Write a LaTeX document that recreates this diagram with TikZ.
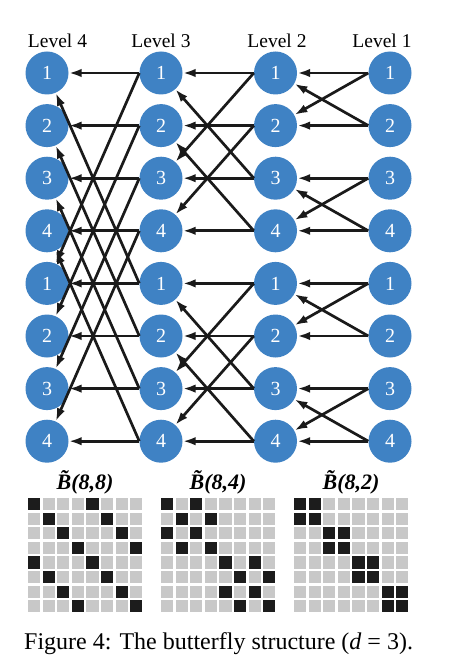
\documentclass[tikz,border=0pt]{standalone}
\usepackage{fontspec}
\setmainfont{Liberation Serif}
\usetikzlibrary{arrows.meta}
\definecolor{nodeblue}{HTML}{3F82C4}
\definecolor{cellgray}{HTML}{C8C8C8}
\definecolor{cellblack}{HTML}{1C1C1C}
\definecolor{edgeblack}{HTML}{1A1A1A}
\begin{document}
\begin{tikzpicture}[x=1pt,y=-1pt,
  bnode/.style={circle,fill=nodeblue,draw=none,minimum size=43pt,inner sep=0pt,text=white,font=\fontsize{20}{20}\selectfont},
  edge/.style={line width=2.7pt,draw=edgeblack,-{Latex[length=13pt,width=8.5pt]}},
  lvl/.style={anchor=base,inner sep=0pt,font=\fontsize{19.5}{20}\selectfont},
  mtitle/.style={anchor=base,inner sep=0pt,font=\fontsize{22}{22}\selectfont\bfseries\itshape},
  gcell/.style={fill=cellgray},
  bcell/.style={fill=cellblack}
]
\useasboundingbox (0,0) rectangle (449,663);
\fill[white] (0,0) rectangle (449,663);
% level labels
\node[lvl] (l4) at (57.5,47.3) {Level 4};
\node[lvl] (l3) at (161,47.3) {Level 3};
\node[lvl] (l2) at (277,47.3) {Level 2};
\node[lvl] (l1) at (382,47.3) {Level 1};
% nodes
\foreach \c/\x in {4/47,3/161,2/275.5,1/390}{
  \foreach \r in {1,...,8}{
    \pgfmathtruncatemacro\lab{mod(\r-1,4)+1}
    \node[bnode] (n\c-\r) at (\x,{73+52.6*(\r-1)}) {\lab};
  }
}
% edges
\foreach \r in {1,...,8}{
  \pgfmathtruncatemacro\pa{\r+(1-2*mod(floor((\r-1)/1),2))*1}
  \pgfmathtruncatemacro\pb{\r+(1-2*mod(floor((\r-1)/2),2))*2}
  \pgfmathtruncatemacro\pc{\r+(1-2*mod(floor((\r-1)/4),2))*4}
  \draw[edge] (n1-\r.west) -- (n2-\r);
  \draw[edge] (n1-\r.west) -- (n2-\pa);
  \draw[edge] (n2-\r.west) -- (n3-\r);
  \draw[edge] (n2-\r.west) -- (n3-\pb);
  \draw[edge] (n3-\r.west) -- (n4-\r);
  \draw[edge] (n3-\r.west) -- (n4-\pc);
}
% matrix titles
\node[mtitle] (t1) at (85,489) {\~{B}(8,8)};
\node[mtitle] (t2) at (218,489) {\~{B}(8,4)};
\node[mtitle] (t3) at (351,489) {\~{B}(8,2)};
% matrices
\def\pit{14.6}
\def\cs{12.2}
\foreach \i in {1,...,8}{
  \foreach \j in {1,...,8}{
    \pgfmathtruncatemacro\ba{mod(\i-\j+8,4)==0}
    \pgfmathtruncatemacro\bb{and(floor((\i-1)/4)==floor((\j-1)/4),mod(\i-\j+8,2)==0)}
    \pgfmathtruncatemacro\bc{floor((\i-1)/2)==floor((\j-1)/2)}
    \pgfmathsetmacro\xo{(\j-1)*\pit}
    \pgfmathsetmacro\yo{498+(\i-1)*\pit}
    \ifnum\ba=1 \def\sa{bcell}\else\def\sa{gcell}\fi
    \ifnum\bb=1 \def\sb{bcell}\else\def\sb{gcell}\fi
    \ifnum\bc=1 \def\sc{bcell}\else\def\sc{gcell}\fi
    \fill[\sa] ({28+\xo},\yo) rectangle ++(\cs,\cs);
    \fill[\sb] ({161+\xo},\yo) rectangle ++(\cs,\cs);
    \fill[\sc] ({294+\xo},\yo) rectangle ++(\cs,\cs);
  }
}
% caption
\node[anchor=base west,inner sep=0pt,font=\fontsize{24}{24}\selectfont] (cap) at (24,649) {Figure 4: The butterfly structure (\textit{d}~=~3).};
\end{tikzpicture}
\end{document}
